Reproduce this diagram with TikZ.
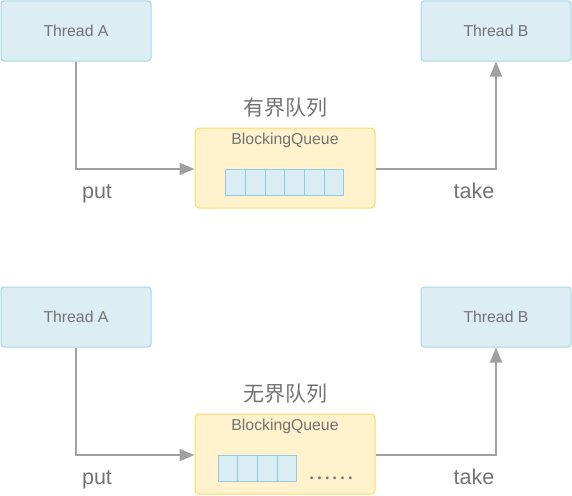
\documentclass[tikz,border=0pt]{standalone}
\usepackage{fontspec}
\setmainfont{Liberation Sans}
\newfontfamily\cjk{Noto Sans CJK SC}
\usetikzlibrary{arrows.meta}
\definecolor{txtgray}{HTML}{737373}
\definecolor{arrgray}{HTML}{A0A0A0}
\definecolor{bluefill}{HTML}{DCEDF3}
\definecolor{bluedraw}{HTML}{A8D5E2}
\definecolor{cellfill}{HTML}{DAEDF4}
\definecolor{celldraw}{HTML}{8ECDDF}
\definecolor{yelfill}{HTML}{FFF2CC}
\definecolor{yeldraw}{HTML}{FFD966}
\tikzset{
  threadbox/.style={draw=bluedraw, fill=bluefill, line width=1pt, rounded corners=3pt,
    minimum width=150pt, minimum height=60pt, inner sep=0pt, text=txtgray,
    font=\fontsize{15.8pt}{18pt}\selectfont},
  queuebox/.style={draw=yeldraw, fill=yelfill, line width=1pt, rounded corners=4pt,
    minimum width=180pt, minimum height=80pt, inner sep=0pt},
  cellbox/.style={draw=celldraw, fill=cellfill, line width=1pt,
    minimum width=19.7pt, minimum height=26pt, inner sep=0pt},
  flow/.style={draw=arrgray, line width=2pt, -{Triangle[length=15pt,width=12pt]}},
  lbl/.style={text=txtgray, font=\fontsize{21.5pt}{24pt}\selectfont, anchor=base, inner sep=0pt},
  qtitle/.style={text=txtgray, font=\cjk\fontsize{21pt}{24pt}\selectfont, inner sep=0pt},
  qname/.style={text=txtgray, font=\fontsize{15.8pt}{18pt}\selectfont, anchor=base, inner sep=0pt},
}
\begin{document}
\begin{tikzpicture}[x=1pt,y=1pt]
\useasboundingbox (0,0) rectangle (572,-495);
% ---------- top: bounded queue ----------
\node[threadbox] (ta1) at (76,-31) {Thread A};
\node[threadbox] (tb1) at (496,-31) {Thread B};
\node[queuebox] (q1) at (285,-168) {};
\node[qtitle] (t1) at (285,-107.5) {有界队列};
\node[qname] (n1) at (285,-144.3) {BlockingQueue};
\foreach \i in {0,...,5}{
  \node[cellbox] (c1\i) at ({225.7+9.85+19.7*\i},-182) {};
}
\coordinate (b1a) at (76,-169);
\coordinate (b1b) at (496,-169);
\draw[flow] (ta1.south) -- (b1a) -- (q1.west |- b1a);
\draw[flow] (q1.east |- b1b) -- (b1b) -- (tb1.south);
\node[lbl] (put1) at (97,-198) {put};
\node[lbl] (take1) at (474,-198) {take};
% ---------- bottom: unbounded queue ----------
\node[threadbox] (ta2) at (76,-317) {Thread A};
\node[threadbox] (tb2) at (496,-317) {Thread B};
\node[queuebox] (q2) at (285,-454) {};
\node[qtitle] (t2) at (285,-393.5) {无界队列};
\node[qname] (n2) at (285,-430.3) {BlockingQueue};
\foreach \i in {0,...,3}{
  \node[cellbox] (c2\i) at ({218+9.85+19.7*\i},-468.5) {};
}
\node[text=txtgray, font=\cjk\fontsize{21pt}{24pt}\selectfont, inner sep=0pt, anchor=base] (dots) at (331,-479) {……};
\coordinate (b2a) at (76,-455);
\coordinate (b2b) at (496,-455);
\draw[flow] (ta2.south) -- (b2a) -- (q2.west |- b2a);
\draw[flow] (q2.east |- b2b) -- (b2b) -- (tb2.south);
\node[lbl] (put2) at (97,-484) {put};
\node[lbl] (take2) at (474,-484) {take};
\end{tikzpicture}
\end{document}
